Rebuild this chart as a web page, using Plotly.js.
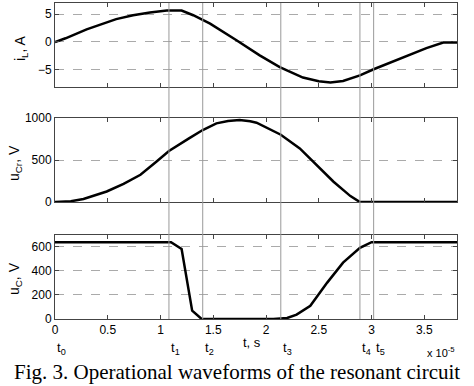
<!DOCTYPE html>
<html>
<head>
<meta charset="utf-8">
<script src="https://cdn.plot.ly/plotly-3.0.1.min.js"></script>
<style>html,body{margin:0;padding:0;background:#fff;}#chart{width:474px;height:386px;}</style>
</head>
<body>
<div id="chart"></div>
<script>
// time in units of 1e-5 s
const tIL = [0, 0.1, 0.3, 0.43, 0.58, 0.74, 0.9, 1.06, 1.2, 1.31, 1.47, 1.72, 1.94, 2.13, 2.35, 2.5, 2.61, 2.73, 2.89, 3.02, 3.27, 3.52, 3.68, 3.81];
const iL  = [0, 0.66, 2.27, 3.16, 4.1, 4.8, 5.3, 5.65, 5.65, 4.8, 3.3, 0.3, -2.4, -4.5, -6.4, -7.05, -7.3, -7.0, -6.0, -4.9, -3.0, -1.1, -0.1, -0.1];

const tUCr = [0, 0.1, 0.15, 0.27, 0.49, 0.65, 0.81, 0.96, 1.08, 1.27, 1.40, 1.53, 1.64, 1.75, 1.85, 1.91, 2.14, 2.32, 2.48, 2.64, 2.80, 2.89, 3.81];
const uCr  = [0, 5, 10, 36, 126, 217, 325, 480, 607, 758, 857, 937, 965, 976, 962, 944, 801, 639, 440, 242, 71, 0, 0];

const tUC = [0, 1.10, 1.20, 1.30, 1.39, 2.07, 2.2, 2.29, 2.42, 2.58, 2.73, 2.89, 3.0, 3.81];
const uC  = [640, 640, 583, 70, 0, 0, 8, 36, 110, 303, 469, 593, 640, 640];

const tMarks = [0, 1.08, 1.40, 2.14, 2.89, 3.02];
const tMarkLabels = ['t<sub>0</sub>', 't<sub>1</sub>', 't<sub>2</sub>', 't<sub>3</sub>', 't<sub>4</sub>', 't<sub>5</sub>'];
const xTicks = [0, 0.5, 1, 1.5, 2, 2.5, 3, 3.5];
const yTicks1 = [-5, 0, 5];
const yTicks2 = [0, 500, 1000];
const yTicks3 = [0, 200, 400, 600];

const lineStyle = {color: '#000', width: 2.5};
const traces = [
  {x: tIL, y: iL, xaxis: 'x', yaxis: 'y', mode: 'lines', line: lineStyle},
  {x: tUCr, y: uCr, xaxis: 'x2', yaxis: 'y2', mode: 'lines', line: lineStyle},
  {x: tUC, y: uC, xaxis: 'x3', yaxis: 'y3', mode: 'lines', line: lineStyle}
];

const font = {family: 'Liberation Sans, Arial, sans-serif', size: 12, color: '#000'};
function xax(anchor, labels) {
  return {anchor: anchor, domain: [0, 1], range: [0, 3.81], tickvals: xTicks,
    showticklabels: labels, ticks: 'inside', ticklen: 4, tickcolor: '#444',
    showline: true, linecolor: '#444', linewidth: 1, mirror: 'ticks',
    showgrid: false, zeroline: false, tickfont: font};
}
function yax(anchor, dom, range, vals) {
  return {anchor: anchor, domain: dom, range: range, tickvals: vals,
    ticks: 'inside', ticklen: 4, tickcolor: '#444',
    showline: true, linecolor: '#444', linewidth: 1, mirror: 'ticks',
    showgrid: true, gridcolor: '#aaa', griddash: 'dash', gridwidth: 1,
    zeroline: false, tickfont: font};
}

const shapes = tMarks.slice(1).map(v => ({type: 'line', xref: 'x3', yref: 'paper',
  x0: v, x1: v, y0: 0, y1: 1, line: {color: '#999', width: 1}}));

const annotations = [];
tMarks.forEach((v, i) => annotations.push({xref: 'x3', yref: 'paper', x: v, y: -0.093,
  xanchor: 'left', yanchor: 'middle', xshift: 0, text: tMarkLabels[i], showarrow: false,
  font: {family: font.family, size: 13, color: '#000'}}));
annotations.push({xref: 'paper', yref: 'paper', x: (252 - 55) / 402, y: -0.075, xanchor: 'center', yanchor: 'middle',
  text: 't, s', showarrow: false, font: {family: font.family, size: 13, color: '#000'}});
annotations.push({xref: 'paper', yref: 'paper', x: 1, y: -0.103, xanchor: 'right', yanchor: 'middle',
  text: 'x 10<sup>-5</sup>', showarrow: false, font: {family: font.family, size: 11, color: '#000'}});
annotations.push({xref: 'paper', yref: 'paper', x: (21 - 55) / 402, y: (319 - 48) / 316, xanchor: 'center', yanchor: 'middle',
  text: 'i<sub>L</sub>, A', textangle: -90, showarrow: false, font: {family: font.family, size: 14, color: '#000'}});
annotations.push({xref: 'paper', yref: 'paper', x: (15 - 55) / 402, y: (319 - 163) / 316, xanchor: 'center', yanchor: 'middle',
  text: 'u<sub>Cr</sub>, V', textangle: -90, showarrow: false, font: {family: font.family, size: 14, color: '#000'}});
annotations.push({xref: 'paper', yref: 'paper', x: (15 - 55) / 402, y: (319 - 279) / 316, xanchor: 'center', yanchor: 'middle',
  text: 'u<sub>C</sub>, V', textangle: -90, showarrow: false, font: {family: font.family, size: 14, color: '#000'}});
annotations.push({xref: 'paper', yref: 'paper', x: (237 - 55) / 402, y: (319 - 372) / 316, xanchor: 'center', yanchor: 'middle',
  text: 'Fig. 3. Operational waveforms of the resonant circuit', showarrow: false,
  font: {family: 'Liberation Serif, Times New Roman, serif', size: 21, color: '#000'}});

const layout = {
  width: 474, height: 386,
  margin: {l: 55, r: 17, t: 3, b: 67, pad: 0},
  paper_bgcolor: '#fff', plot_bgcolor: '#fff',
  showlegend: false,
  xaxis: xax('y', false),
  xaxis2: xax('y2', false),
  xaxis3: xax('y3', true),
  yaxis: yax('x', [0.734, 1], [-8.1, 7], yTicks1),
  yaxis2: yax('x2', [0.370, 0.636], [0, 1000], yTicks2),
  yaxis3: yax('x3', [0, 0.266], [0, 700], yTicks3),
  shapes: shapes,
  annotations: annotations
};

Plotly.newPlot('chart', traces, layout, {displayModeBar: false, staticPlot: true});
</script>
</body>
</html>
